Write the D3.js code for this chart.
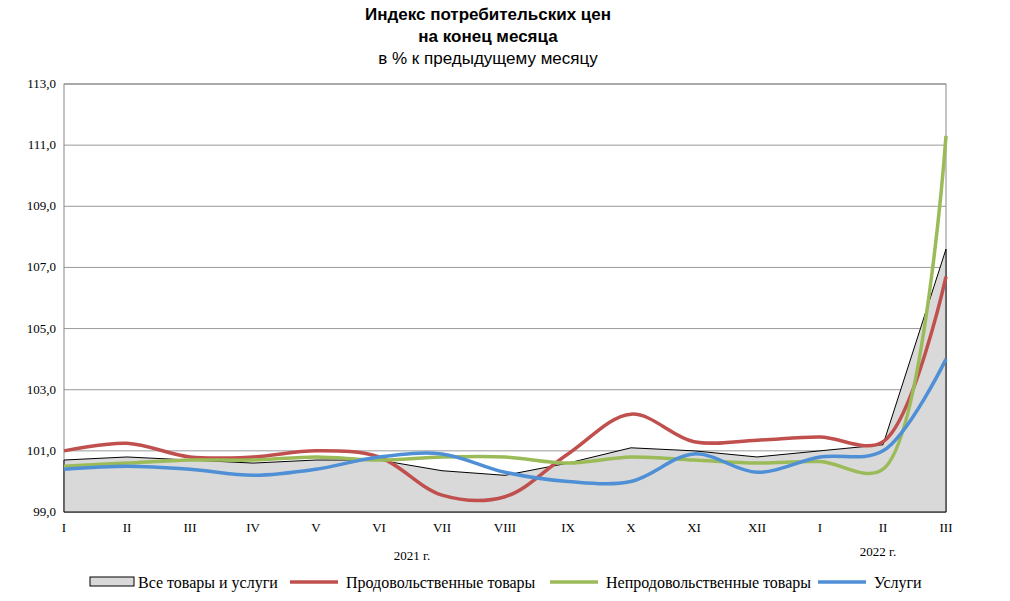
<!DOCTYPE html>
<html><head><meta charset="utf-8">
<script src="https://cdn.jsdelivr.net/npm/d3@7"></script>
<style>body{margin:0;background:#fff}</style>
</head><body><div id="chart"></div>
<script>
const months = ['I','II','III','IV','V','VI','VII','VIII','IX','X','XI','XII','I','II','III']
const allGoods = [100.7,100.8,100.7,100.6,100.7,100.7,100.35,100.2,100.6,101.1,101.0,100.8,101.0,101.2,107.6]
const food = [101.0,101.25,100.8,100.8,101.0,100.8,99.55,99.5,100.9,102.2,101.3,101.35,101.45,101.3,106.7]
const nonFood = [100.5,100.6,100.7,100.7,100.8,100.7,100.8,100.8,100.6,100.8,100.7,100.6,100.65,100.4,111.3]
const services = [100.4,100.5,100.4,100.2,100.4,100.8,100.9,100.3,100.0,100.0,100.9,100.3,100.8,101.0,104.0]
const yTicks = [99,101,103,105,107,109,111,113]

const W = 1010, H = 601
const m = { top: 84, right: 64, bottom: 89, left: 64 }
const svg = d3.select('#chart').append('svg').attr('width', W).attr('height', H)

const x = d3.scaleLinear().domain([0, months.length - 1]).range([m.left, W - m.right])
const y = d3.scaleLinear().domain([99, 113]).range([H - m.bottom, m.top])

// grid
svg.append('g').selectAll('line').data(yTicks).join('line')
  .attr('x1', m.left).attr('x2', W - m.right)
  .attr('y1', d => y(d)).attr('y2', d => y(d))
  .attr('stroke', '#999').attr('stroke-width', 1)
svg.append('rect').attr('x', m.left).attr('y', m.top)
  .attr('width', W - m.left - m.right).attr('height', H - m.top - m.bottom)
  .attr('fill', 'none').attr('stroke', '#888')

// area
svg.append('path').datum(allGoods)
  .attr('d', d3.area().x((d, i) => x(i)).y0(y(99)).y1(d => y(d)))
  .attr('fill', '#d9d9d9').attr('stroke', '#000').attr('stroke-width', 1)

const line = d3.line().x((d, i) => x(i)).y(d => y(d)).curve(d3.curveCatmullRom.alpha(0.5))
;[[food, '#c0504d'], [nonFood, '#9bbb59'], [services, '#4f8fd6']].forEach(([data, c]) => {
  svg.append('path').datum(data).attr('d', line)
    .attr('fill', 'none').attr('stroke', c).attr('stroke-width', 3.5)
})

// axes labels
svg.append('g').selectAll('text').data(yTicks).join('text')
  .attr('x', 56).attr('y', d => y(d) + 4).attr('text-anchor', 'end')
  .attr('font-family', 'Liberation Serif').attr('font-size', 13).text(d => d.toFixed(1).replace('.', ','))
svg.append('g').selectAll('text').data(months).join('text')
  .attr('x', (d, i) => x(i)).attr('y', 532).attr('text-anchor', 'middle')
  .attr('font-family', 'Liberation Serif').attr('font-size', 13).text(d => d)
svg.append('text').attr('x', 412).attr('y', 560).attr('text-anchor', 'middle')
  .attr('font-family', 'Liberation Serif').attr('font-size', 13).text('2021 г.')
svg.append('text').attr('x', 878).attr('y', 556).attr('text-anchor', 'middle')
  .attr('font-family', 'Liberation Serif').attr('font-size', 13).text('2022 г.')

// title
const t = svg.append('text').attr('text-anchor', 'middle').attr('font-family', 'Liberation Sans').attr('font-size', 17)
t.append('tspan').attr('x', 488).attr('y', 20).attr('font-weight', 'bold').text('Индекс потребительских цен')
t.append('tspan').attr('x', 488).attr('y', 42).attr('font-weight', 'bold').text('на конец месяца')
t.append('tspan').attr('x', 488).attr('y', 64).text('в % к предыдущему месяцу')

// legend
const legend = [
  { label: 'Все товары и услуги', x: 90, area: true },
  { label: 'Продовольственные товары', x: 290, color: '#c0504d' },
  { label: 'Непродовольственные товары', x: 550, color: '#9bbb59' },
  { label: 'Услуги', x: 818, color: '#4f8fd6' }
]
const lg = svg.append('g').selectAll('g').data(legend).join('g')
lg.each(function (d) {
  const g = d3.select(this)
  if (d.area) g.append('rect').attr('x', d.x).attr('y', 577).attr('width', 44).attr('height', 9)
    .attr('fill', '#d9d9d9').attr('stroke', '#000')
  else g.append('line').attr('x1', d.x).attr('x2', d.x + 48).attr('y1', 582).attr('y2', 582)
    .attr('stroke', d.color).attr('stroke-width', 3.5)
  g.append('text').attr('x', d.x + (d.area ? 48 : 56)).attr('y', 588)
    .attr('font-family', 'Liberation Serif').attr('font-size', 16).text(d.label)
})
</script></body></html>
